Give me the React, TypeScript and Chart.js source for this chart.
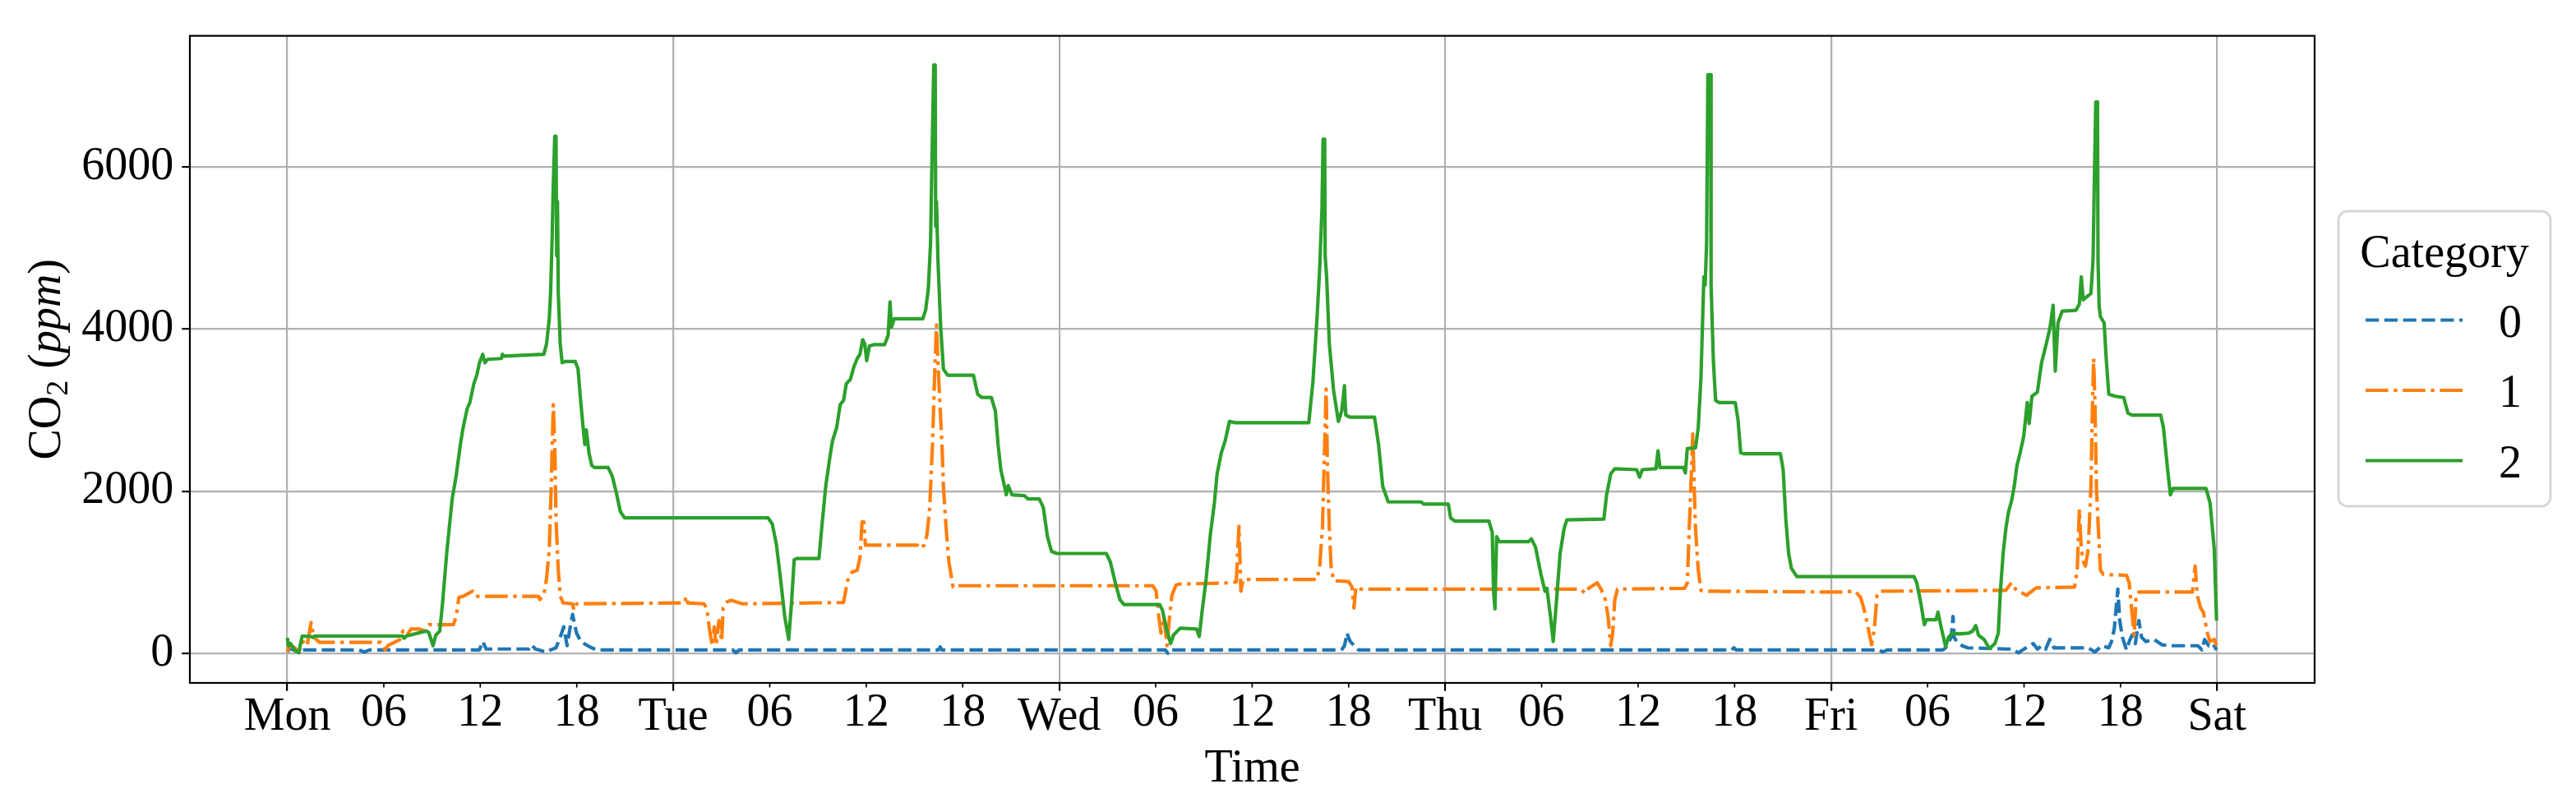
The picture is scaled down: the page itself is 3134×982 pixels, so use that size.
import React, { useEffect, useRef } from 'react';
import { Chart, registerables } from 'chart.js';

Chart.register(...registerables);

// ---------------- data (hours since Monday 00:00, CO2 ppm) ----------------
const CATEGORY_0: [number, number][] = [
  [0, 15], [0.15, 60], [0.5, 30], [0.71, 15], [1.06, 41], [4.46, 41], [4.8, 15], [5.1, 41],
  [11.95, 41], [12.15, 145], [12.37, 52], [15.01, 52], [15.18, 103], [15.43, 52], [16.12, 15],
  [16.37, 41], [16.71, 67], [16.97, 196], [17.19, 326], [17.4, 93], [17.57, 300], [17.74, 480],
  [17.87, 352], [17.99, 248], [18.25, 145], [18.59, 103], [18.93, 67], [19.27, 41],
  [27.7, 41], [27.9, 5], [28.1, 41], [40.5, 41], [40.6, 78], [40.7, 41],
  [54.6, 41], [54.76, 0], [54.9, 41], [65.4, 41], [65.6, 52], [65.75, 100], [65.9, 248],
  [66.0, 190], [66.1, 145], [66.6, 41], [89.8, 41], [89.96, 67], [90.1, 41],
  [99.0, 41], [99.2, 15], [99.5, 41], [102.95, 41], [103.12, 67], [103.47, 196], [103.58, 455],
  [103.66, 196], [103.81, 145], [104.15, 93], [104.49, 67], [106.87, 52], [107.3, 52],
  [107.64, 5], [108.0, 52], [108.58, 119], [108.83, 52], [109.09, 93], [109.35, 52],
  [109.6, 171], [109.86, 67], [111.99, 67], [112.41, 15], [112.84, 93], [113.27, 67],
  [113.44, 145], [113.61, 300], [113.73, 559], [113.83, 791], [113.95, 403], [114.12, 196],
  [114.37, 41], [114.54, 145], [114.71, 222], [114.92, 119], [115.14, 403], [115.31, 196],
  [115.57, 145], [116.08, 171], [116.59, 103], [117.1, 93], [118.81, 93], [119.06, 41],
  [119.23, 171], [119.49, 93], [119.74, 119], [119.97, 41],
];

const CATEGORY_1: [number, number][] = [
  [0, 15], [0.12, 93], [0.46, 67], [0.71, 15], [0.97, 145], [1.23, 93], [1.48, 378], [1.65, 196],
  [2, 134], [5.82, 134], [6.08, 41], [6.25, 93], [6.5, 119], [7.01, 171], [7.18, 274], [7.44, 222],
  [7.69, 300], [8.2, 300], [8.54, 274], [8.8, 352], [10.33, 352], [10.5, 455], [10.67, 688],
  [10.93, 703], [11.52, 765], [11.7, 703], [15.61, 703], [15.7, 662], [15.95, 714], [16.12, 920],
  [16.29, 1283], [16.41, 2058], [16.54, 3067], [16.63, 2575], [16.71, 1645], [16.85, 1024],
  [16.97, 714], [17.14, 621], [17.74, 610], [17.82, 533], [17.99, 610],
  [24.7, 621], [24.8, 700], [24.9, 621], [25.9, 610], [26.08, 559], [26.25, 300], [26.42, 93],
  [26.55, 326], [26.67, 93], [26.84, 403], [27.01, 145], [27.1, 559], [27.35, 636], [27.61, 652],
  [28.29, 610], [34.59, 626], [34.84, 895], [35.1, 998], [35.44, 1024], [35.61, 1179],
  [35.74, 1619], [35.85, 1619], [35.95, 1334], [36.2, 1334], [39.18, 1334], [39.35, 1293],
  [39.61, 1334], [39.78, 1464], [39.95, 1800], [40.12, 2575], [40.24, 3351], [40.37, 4050],
  [40.46, 3610], [40.54, 3248], [40.71, 2575], [40.8, 2058], [40.97, 1541], [41.14, 1127],
  [41.4, 817], [41.65, 833],
  [53.82, 833], [54.03, 765], [54.16, 507], [54.33, 248], [54.5, 455], [54.71, 93], [54.84, 403],
  [55.01, 714], [55.27, 843], [55.52, 853], [58.59, 869], [59.01, 879], [59.18, 1567],
  [59.3, 765], [59.44, 910], [64.03, 910], [64.2, 1076], [64.37, 1541], [64.51, 2575],
  [64.6, 3260], [64.68, 2317], [64.8, 1541], [64.92, 1024], [65.09, 895], [65.99, 884],
  [66.21, 817], [66.33, 559], [66.45, 817], [66.76, 791],
  [80.43, 791], [80.71, 740], [80.93, 802], [81.45, 869], [81.7, 791], [81.96, 662], [82.13, 455],
  [82.3, 93], [82.42, 248], [82.55, 662], [82.72, 791], [86.89, 802], [87.06, 869], [87.18, 1541],
  [87.32, 2265], [87.4, 2705], [87.49, 2058], [87.57, 1541], [87.74, 1024], [87.91, 776],
  [88.17, 765],
  [96.56, 755], [97.5, 765], [97.84, 688], [98.1, 507], [98.32, 300], [98.52, 103], [98.69, 300],
  [98.86, 714], [99.03, 765], [106.87, 776], [107.22, 869], [107.47, 791], [108.15, 714],
  [108.75, 807], [111.14, 817], [111.31, 1024], [111.44, 1774], [111.56, 1283], [111.7, 1127],
  [111.82, 1076], [111.99, 1283], [112.16, 2058], [112.26, 3093], [112.33, 3636], [112.41, 3093],
  [112.5, 2058], [112.62, 1541], [112.75, 1024], [112.93, 972], [114.37, 962], [114.54, 869],
  [114.71, 507], [114.85, 222], [114.97, 714], [115.14, 755], [118.47, 755], [118.64, 1076],
  [118.77, 714], [118.98, 559], [119.15, 507], [119.4, 248], [119.57, 145], [119.83, 171],
  [119.97, 93],
];

const CATEGORY_2: [number, number][] = [
  [0, 190], [0.07, 93], [0.2, 120], [0.46, 40], [0.71, 5], [0.92, 212], [1.5, 205], [1.6, 196],
  [1.7, 212], [7.18, 212], [7.26, 185], [7.4, 212], [8.63, 274], [8.8, 255], [9.06, 93],
  [9.23, 222], [9.48, 274], [9.65, 610], [9.91, 1230], [10.25, 1900], [10.5, 2190], [10.76, 2575],
  [10.93, 2780], [11.18, 3015], [11.35, 3093], [11.6, 3326], [11.78, 3430], [11.95, 3584],
  [12.15, 3688], [12.29, 3584], [12.46, 3626], [13.31, 3636], [13.38, 3688], [13.45, 3665],
  [15.95, 3688], [16.12, 3817], [16.29, 4127], [16.37, 4438], [16.46, 5058], [16.54, 5782],
  [16.63, 6377], [16.71, 6377], [16.75, 4903], [16.8, 5575], [16.85, 4438], [16.97, 3817],
  [17.09, 3584], [17.31, 3600], [17.9, 3600], [18.08, 3506], [18.25, 3093], [18.42, 2731],
  [18.5, 2575], [18.59, 2756], [18.76, 2472], [18.93, 2317], [19.1, 2291], [19.95, 2291],
  [20.2, 2188], [20.46, 1981], [20.71, 1748], [20.97, 1670],
  [29.9, 1670], [30.16, 1593], [30.42, 1334], [30.67, 920], [30.93, 455], [31.18, 171],
  [31.35, 610], [31.52, 1153], [31.69, 1169], [33.06, 1169], [33.23, 1541], [33.48, 2058],
  [33.74, 2420], [33.91, 2627], [34.16, 2782], [34.38, 3067], [34.59, 3119], [34.76, 3326],
  [35.01, 3377], [35.23, 3532], [35.44, 3636], [35.61, 3688], [35.78, 3869], [35.91, 3817],
  [36.03, 3610], [36.2, 3791], [36.46, 3807], [37.14, 3807], [37.36, 3920], [37.48, 4334],
  [37.57, 4024], [37.74, 4127], [39.52, 4127], [39.69, 4230], [39.86, 4489], [40, 5058],
  [40.08, 5989], [40.2, 7256], [40.29, 7256], [40.32, 5265], [40.37, 5575], [40.46, 4851],
  [40.63, 4024], [40.8, 3506], [41.06, 3429], [42.67, 3429], [42.93, 3196], [43.18, 3155],
  [43.78, 3155], [44.03, 2989], [44.2, 2575], [44.37, 2265], [44.6, 2058], [44.71, 1955],
  [44.83, 2069], [45.06, 1955], [45.82, 1945], [46.07, 1903], [46.76, 1903], [47.01, 1800],
  [47.27, 1438], [47.52, 1257], [47.86, 1231],
  [50.93, 1231], [51.18, 1127], [51.52, 843], [51.78, 662], [52.03, 600], [54.25, 600],
  [54.42, 533], [54.67, 300], [54.93, 119], [55.1, 222], [55.52, 310], [56.54, 300], [56.71, 207],
  [56.88, 507], [57.14, 920], [57.4, 1464], [57.65, 1852], [57.82, 2214], [58.08, 2472],
  [58.33, 2627], [58.59, 2860], [58.93, 2844], [63.52, 2844], [63.78, 3351], [64.03, 4127],
  [64.2, 4748], [64.34, 5472], [64.41, 6341], [64.51, 6341], [64.54, 4903], [64.63, 4644],
  [64.8, 3817], [65.06, 3248], [65.36, 2860], [65.57, 2989], [65.74, 3300], [65.82, 2938],
  [66.08, 2912], [67.61, 2912], [67.86, 2575], [68.12, 2058], [68.46, 1867], [70.5, 1867],
  [70.67, 1841], [72.2, 1841],
  [72.34, 1670], [72.6, 1629], [74.72, 1629], [74.93, 1490], [75.01, 765], [75.1, 548],
  [75.2, 1438], [75.37, 1376], [77.19, 1376], [77.36, 1412], [77.62, 1308], [77.96, 972],
  [78.21, 765], [78.33, 800], [78.55, 455], [78.72, 145], [78.89, 559], [79.15, 1231],
  [79.4, 1541], [79.57, 1645], [81.87, 1655], [82.04, 1955], [82.3, 2214], [82.55, 2276],
  [83.91, 2265], [84.09, 2172], [84.26, 2265], [85.11, 2276], [85.24, 2498], [85.36, 2291],
  [86.81, 2291], [86.94, 2224], [87.06, 2524], [87.57, 2534], [87.74, 2782], [87.91, 3403],
  [88.09, 4644], [88.17, 4541], [88.26, 5058], [88.34, 7137], [88.51, 7137], [88.54, 4541],
  [88.68, 3610], [88.82, 3119], [89.02, 3093], [90.04, 3093], [90.21, 2886], [90.38, 2472],
  [90.55, 2462], [92.85, 2462], [93.02, 2265], [93.19, 1645], [93.36, 1231], [93.53, 1050],
  [93.87, 946],
  [101.16, 946], [101.33, 869], [101.59, 610], [101.8, 352], [101.93, 414], [102.53, 414],
  [102.65, 507], [102.87, 300], [103.12, 83], [103.3, 196], [103.55, 248], [103.98, 238],
  [104.57, 248], [104.8, 274], [105, 341], [105.17, 222], [105.51, 171], [105.85, 57],
  [106.19, 119], [106.4, 248], [106.53, 765], [106.7, 1231], [106.87, 1541], [107.04, 1748],
  [107.22, 1877], [107.39, 2058], [107.56, 2317], [107.76, 2472], [107.98, 2679], [108.2, 3093],
  [108.32, 2834], [108.49, 3170], [108.83, 3222], [109.09, 3584], [109.35, 3791], [109.6, 3998],
  [109.81, 4293], [109.94, 3481], [110.11, 4075], [110.37, 4220], [111.22, 4230], [111.44, 4308],
  [111.56, 4644], [111.68, 4360], [111.99, 4412], [112.16, 4438], [112.29, 4851], [112.36, 5679],
  [112.46, 6801], [112.57, 6801], [112.6, 4851], [112.67, 4282], [112.75, 4153], [112.98, 4075],
  [113.1, 3662], [113.27, 3196], [113.69, 3170], [114.2, 3155], [114.46, 2963], [114.71, 2938],
  [116.5, 2938], [116.67, 2782], [116.93, 2265], [117.1, 1955], [117.27, 2033], [119.32, 2033],
  [119.57, 1852], [119.83, 1283], [119.97, 403],
];

const SERIES_LABELS = ['0', '1', '2'];
const X_TICK_HOURS = [0, 6, 12, 18, 24, 30, 36, 42, 48, 54, 60, 66, 72, 78, 84, 90, 96, 102, 108, 114, 120];
const X_TICK_LABELS = ['Mon', '06', '12', '18', 'Tue', '06', '12', '18', 'Wed', '06', '12', '18',
  'Thu', '06', '12', '18', 'Fri', '06', '12', '18', 'Sat'];
const Y_TICK_VALUES = [0, 2000, 4000, 6000];

// ---------------- styles ----------------
const W = 3134;
const H = 982;
const FONT = "'Liberation Serif', 'Times New Roman', 'DejaVu Serif', serif";
const FS = 56;
const COLORS = ['#1f77b4', '#ff7f0e', '#2ca02c'];
const LW = 4.2;
const DASHES: number[][] = [[16.2, 6.6], [27.6, 6.6, 4.4, 6.6], []];

const isMajor = (v: number) => Math.abs(v % 24) < 1e-6;

const decorPlugin = {
  id: 'decor',
  afterDraw(chart: any) {
    const { ctx, chartArea: a } = chart;
    const xs = chart.scales.x;
    ctx.save();
    // minor ticks
    ctx.strokeStyle = '#000';
    ctx.lineWidth = 1.7;
    ctx.setLineDash([]);
    X_TICK_HOURS.forEach((h) => {
      if (!isMajor(h)) {
        const px = xs.getPixelForValue(h);
        ctx.beginPath();
        ctx.moveTo(px, a.bottom);
        ctx.lineTo(px, a.bottom + 5.6);
        ctx.stroke();
      }
    });
    // frame (spines)
    ctx.lineWidth = 2.2;
    ctx.strokeRect(a.left, a.top, a.right - a.left, a.bottom - a.top);

    // x title
    ctx.fillStyle = '#000';
    ctx.font = `${FS}px ${FONT}`;
    ctx.textAlign = 'center';
    ctx.textBaseline = 'alphabetic';
    ctx.fillText('Time', (a.left + a.right) / 2, 951);

    // y title: CO2 (ppm) with subscript and italic
    const parts = [
      { t: 'CO', f: `${FS}px ${FONT}`, dy: 0 },
      { t: '2', f: `${Math.round(FS * 0.68)}px ${FONT}`, dy: 9 },
      { t: ' (', f: `${FS}px ${FONT}`, dy: 0 },
      { t: 'ppm', f: `italic ${FS}px ${FONT}`, dy: 0 },
      { t: ')', f: `${FS}px ${FONT}`, dy: 0 },
    ];
    let total = 0;
    const widths = parts.map((p) => {
      ctx.font = p.f;
      const w = ctx.measureText(p.t).width;
      total += w;
      return w;
    });
    ctx.save();
    ctx.translate(73, (a.top + a.bottom) / 2);
    ctx.rotate(-Math.PI / 2);
    ctx.textAlign = 'left';
    let cx = -total / 2;
    parts.forEach((p, i) => {
      ctx.font = p.f;
      ctx.fillText(p.t, cx, p.dy);
      cx += widths[i];
    });
    ctx.restore();

    // legend
    const lx = 2845, ly = 257, lw = 258, lh = 359;
    ctx.beginPath();
    ctx.roundRect(lx, ly, lw, lh, 11);
    ctx.fillStyle = 'rgba(255,255,255,0.8)';
    ctx.fill();
    ctx.lineWidth = 2.8;
    ctx.strokeStyle = '#d6d6d6';
    ctx.stroke();
    ctx.fillStyle = '#000';
    ctx.font = `${FS}px ${FONT}`;
    ctx.textAlign = 'center';
    ctx.fillText('Category', lx + lw / 2, 325);
    const rowY = [389.5, 475, 560.5];
    SERIES_LABELS.forEach((lab, i) => {
      ctx.beginPath();
      ctx.strokeStyle = COLORS[i];
      ctx.lineWidth = LW;
      ctx.lineCap = 'butt';
      ctx.setLineDash(DASHES[i]);
      ctx.moveTo(2878, rowY[i]);
      ctx.lineTo(2996, rowY[i]);
      ctx.stroke();
      ctx.setLineDash([]);
      ctx.fillStyle = '#000';
      ctx.textAlign = 'left';
      ctx.font = `${FS}px ${FONT}`;
      ctx.fillText(lab, 3040, rowY[i] + 20);
    });
    ctx.restore();
  },
};

export default function App() {
  const ref = useRef<HTMLCanvasElement>(null);

  useEffect(() => {
    document.body.style.margin = '0';
    const canvas = ref.current;
    if (!canvas) return;
    const seriesData = [CATEGORY_0, CATEGORY_1, CATEGORY_2];
    const chart = new Chart(canvas, {
      type: 'line',
      data: {
        datasets: seriesData.map((s, i) => ({
          label: SERIES_LABELS[i],
          data: s.map(([x, y]) => ({ x, y })),
          borderColor: COLORS[i],
          backgroundColor: COLORS[i],
          borderWidth: LW,
          borderDash: DASHES[i],
          borderJoinStyle: 'round' as const,
          borderCapStyle: 'butt' as const,
          pointRadius: 0,
          pointHoverRadius: 0,
          tension: 0,
          fill: false,
          order: 3 - i,
        })),
      },
      options: {
        animation: false,
        responsive: false,
        devicePixelRatio: 1,
        events: [],
        layout: { padding: { left: 0, top: 43, right: W - 2816, bottom: 0 } },
        plugins: {
          legend: { display: false },
          tooltip: { enabled: false },
          title: { display: false },
        },
        scales: {
          x: {
            type: 'linear',
            min: -6.06,
            max: 126.07,
            afterFit: (s: any) => { s.height = H - 831; },
            afterBuildTicks: (s: any) => { s.ticks = X_TICK_HOURS.map((v) => ({ value: v })); },
            ticks: {
              autoSkip: false,
              maxRotation: 0,
              minRotation: 0,
              padding: 0,
              color: '#000',
              font: (c: any) => ({
                family: FONT,
                size: FS,
                lineHeight: c.tick && isMajor(c.tick.value) ? 1.16 : 1.0,
              }),
              callback: (_v: any, idx: number) => X_TICK_LABELS[idx],
            },
            grid: {
              color: (c: any) => (c.tick && isMajor(c.tick.value) ? '#b0b0b0' : 'rgba(0,0,0,0)'),
              lineWidth: 2.2,
              drawTicks: true,
              tickLength: 9.7,
              tickWidth: 2.2,
              tickColor: (c: any) => (c.tick && isMajor(c.tick.value) ? '#000' : 'rgba(0,0,0,0)'),
            },
            border: { display: false },
          },
          y: {
            type: 'linear',
            min: -366,
            max: 7617,
            afterFit: (s: any) => { s.width = 231; },
            afterBuildTicks: (s: any) => { s.ticks = Y_TICK_VALUES.map((v) => ({ value: v })); },
            ticks: {
              padding: 10,
              color: '#000',
              font: { family: FONT, size: FS },
              callback: (v: any) => String(v),
            },
            grid: {
              color: '#b0b0b0',
              lineWidth: 2.2,
              drawTicks: true,
              tickLength: 9.7,
              tickWidth: 2.2,
              tickColor: '#000',
            },
            border: { display: false },
          },
        },
      },
      plugins: [decorPlugin],
    } as any);
    return () => chart.destroy();
  }, []);

  return (
    <div style={{ width: W, height: H, background: '#fff' }}>
      <canvas ref={ref} width={W} height={H} style={{ display: 'block', width: W, height: H }} />
    </div>
  );
}
